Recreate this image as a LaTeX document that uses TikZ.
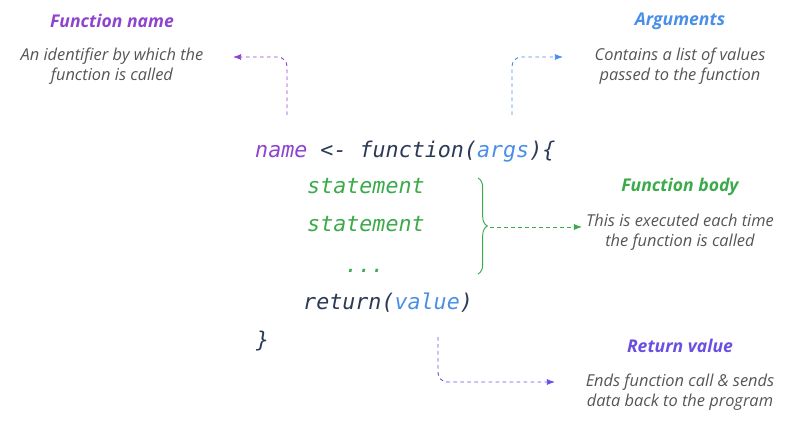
\documentclass[tikz,border=0pt]{standalone}
\usepackage{fontspec}
\setmainfont{Open Sans}
\setmonofont{DejaVu Sans Mono}
\usetikzlibrary{arrows.meta, positioning, decorations.pathreplacing}
\definecolor{namecol}{HTML}{8E44CF}
\definecolor{argcol}{HTML}{4A8FE7}
\definecolor{bodycol}{HTML}{3BAA4A}
\definecolor{retcol}{HTML}{6A4FE0}
\definecolor{codecol}{HTML}{2B3A55}
\definecolor{desccol}{HTML}{555555}

\begin{document}
\begin{tikzpicture}[x=0.03cm, y=-0.03cm,
  head/.style={font=\fontsize{15}{18}\selectfont\bfseries\itshape},
  desc/.style={font=\fontsize{14}{17}\selectfont\itshape, text=desccol, align=center},
  code/.style={font=\fontsize{18.5}{22}\selectfont\ttfamily\itshape, text=codecol, anchor=base west, inner sep=0pt},
  link/.style={dashed, thick, -{Latex[length=7pt]}, rounded corners=8pt}]
  \useasboundingbox (0,0) rectangle (800,424);

  % Code
  \node[code] (line1) at (255,157) {\textcolor{namecol}{name} <- function(\textcolor{argcol}{args})\{};
  \node[code, text=bodycol] (stmt1) at (307,194) {statement};
  \node[code, text=bodycol] (stmt2) at (307,232) {statement};
  \node[code, text=bodycol] (dots) at (345,272) {...};
  \node[code] (ret) at (303,309) {return(\textcolor{argcol}{value})};
  \node[code] (close) at (256,347) {\}};

  % Function name
  \node[head, text=namecol] (namehead) at (112,21) {Function name};
  \node[desc] (namedesc) at (112,66) {An identifier by which the\\function is called};
  \coordinate (namefoot) at (287,115);
  \draw[link, namecol] (namefoot) |- (233,57);

  % Arguments
  \node[head, text=argcol] (arghead) at (680,21) {Arguments};
  \node[desc] (argdesc) at (680,66) {Contains a list of values\\passed to the function};
  \coordinate (argfoot) at (512,115);
  \draw[link, argcol] (argfoot) |- (563,57);

  % Function body
  \node[head, text=bodycol] (bodyhead) at (680,187) {Function body};
  \node[desc] (bodydesc) at (680,232) {This is executed each time\\the function is called};
  \draw[bodycol, thick, decorate, decoration={brace, amplitude=8pt}] (478,178) -- (478,274)
    coordinate[midway, xshift=12] (bracetip);
  \draw[dashed, thick, bodycol, -{Latex[length=7pt]}] (490,227) -- (bodydesc.west |- 0,227);

  % Return value
  \node[head, text=retcol] (rethead) at (680,346) {Return value};
  \node[desc] (retdesc) at (680,392) {Ends function call \& sends\\data back to the program};
  \coordinate (retfoot) at (438,337);
  \draw[link, retcol] (retfoot) |- (555,382);
\end{tikzpicture}
\end{document}
